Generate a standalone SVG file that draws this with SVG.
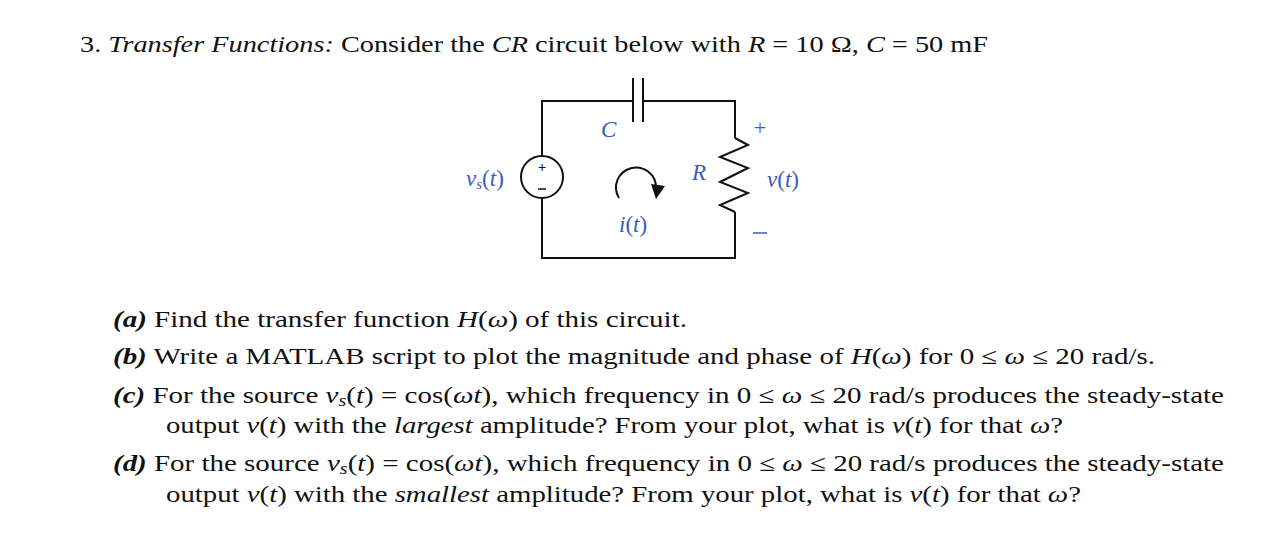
<svg xmlns="http://www.w3.org/2000/svg" width="1261" height="549" viewBox="0 0 1261 549">
<style>
.t{font-family:"Liberation Serif",serif;font-size:23px;fill:#111}
.i{font-style:italic}
.b{font-weight:bold;font-style:italic}
.l{font-family:"Liberation Serif",serif;font-size:23px;fill:#3a5bbf;font-style:italic}
.w{fill:none;stroke:#111;stroke-width:2}
</style>
<rect width="1261" height="549" fill="#fff"/>
<g id="connectors">
<path class="w" d="M633,101 H542 V156 M542,198 V258 H735 V212 M643,101 H735 V138"/>
<path class="w" d="M735,138 L748,145 L720,157 L748,168 L720,182 L748,193 L720,205 L735,212"/>
<path class="w" d="M619,198 A20,20 0 1 1 656,188"/>
<polygon points="651,184 665,186 656,199" fill="#111"/>
</g>
<g id="capacitor"><path class="w" d="M633,78 V122 M643,78 V122"/></g>
<g id="source"><circle cx="542" cy="177" r="21" fill="#fff" stroke="#111" stroke-width="2"/>
<text x="542" y="172" text-anchor="middle" font-family="Liberation Sans,sans-serif" font-size="14" fill="#111">+</text>
<path d="M538,189 H546" stroke="#111" stroke-width="1.5"/></g>
<g id="labels">
<text class="l" x="601" y="137">C</text>
<text class="l" x="466" y="186">v<tspan font-size="15" dy="3">s</tspan><tspan dy="-3" font-style="normal">(</tspan>t<tspan font-style="normal">)</tspan></text>
<text class="l" x="692" y="180">R</text>
<text class="l" x="767" y="187">v<tspan font-style="normal">(</tspan>t<tspan font-style="normal">)</tspan></text>
<text class="l" x="619" y="232">i<tspan font-style="normal">(</tspan>t<tspan font-style="normal">)</tspan></text>
<text x="760" y="135" text-anchor="middle" font-family="Liberation Serif,serif" font-size="22" fill="#3a5bbf">+</text>
<path d="M753,233 H767" stroke="#3a5bbf" stroke-width="1.5"/>
</g>
<g id="text">
<text class="t" x="80" y="52" textLength="908" lengthAdjust="spacingAndGlyphs">3. <tspan class="i">Transfer Functions:</tspan> Consider the <tspan class="i">CR</tspan> circuit below with <tspan class="i">R</tspan> = 10 Ω, <tspan class="i">C</tspan> = 50 mF</text>
<text class="t" x="113" y="327" textLength="574" lengthAdjust="spacingAndGlyphs"><tspan class="b">(a)</tspan> Find the transfer function <tspan class="i">H</tspan>(<tspan class="i">ω</tspan>) of this circuit.</text>
<text class="t" x="113" y="364" textLength="1042" lengthAdjust="spacingAndGlyphs"><tspan class="b">(b)</tspan> Write a MATLAB script to plot the magnitude and phase of <tspan class="i">H</tspan>(<tspan class="i">ω</tspan>) for 0 ≤ <tspan class="i">ω</tspan> ≤ 20 rad/s.</text>
<text class="t" x="113" y="403" textLength="1111" lengthAdjust="spacingAndGlyphs"><tspan class="b">(c)</tspan> For the source <tspan class="i">v<tspan font-size="16" dy="3">s</tspan></tspan><tspan dy="-3">(</tspan><tspan class="i">t</tspan>) = cos(<tspan class="i">ωt</tspan>), which frequency in 0 ≤ <tspan class="i">ω</tspan> ≤ 20 rad/s produces the steady-state</text>
<text class="t" x="166" y="433" textLength="897" lengthAdjust="spacingAndGlyphs">output <tspan class="i">v</tspan>(<tspan class="i">t</tspan>) with the <tspan class="i">largest</tspan> amplitude? From your plot, what is <tspan class="i">v</tspan>(<tspan class="i">t</tspan>) for that <tspan class="i">ω</tspan>?</text>
<text class="t" x="113" y="471" textLength="1111" lengthAdjust="spacingAndGlyphs"><tspan class="b">(d)</tspan> For the source <tspan class="i">v<tspan font-size="16" dy="3">s</tspan></tspan><tspan dy="-3">(</tspan><tspan class="i">t</tspan>) = cos(<tspan class="i">ωt</tspan>), which frequency in 0 ≤ <tspan class="i">ω</tspan> ≤ 20 rad/s produces the steady-state</text>
<text class="t" x="166" y="502" textLength="915" lengthAdjust="spacingAndGlyphs">output <tspan class="i">v</tspan>(<tspan class="i">t</tspan>) with the <tspan class="i">smallest</tspan> amplitude? From your plot, what is <tspan class="i">v</tspan>(<tspan class="i">t</tspan>) for that <tspan class="i">ω</tspan>?</text>
</g>
</svg>
